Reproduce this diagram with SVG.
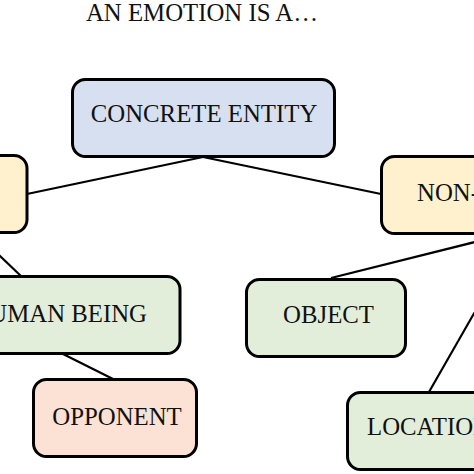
<svg xmlns="http://www.w3.org/2000/svg" width="474" height="474" viewBox="0 0 474 474">
<style>
.box{stroke:#000;stroke-width:3}
.t{font-family:"Liberation Serif","Times New Roman",serif;font-size:24.8px;fill:#111}
.blue{fill:#d7e0f1}
.yel{fill:#fff1cd}
.grn{fill:#e2eed9}
.pch{fill:#fbe2d4}
.c{stroke:#000;stroke-width:2.2;fill:none}
</style>
<rect width="474" height="474" fill="#fff"/>
<text class="t" x="202" y="21" text-anchor="middle">AN EMOTION IS A…</text>
<g id="connectors">
<line class="c" x1="203" y1="157" x2="27" y2="194"/>
<line class="c" x1="203" y1="157" x2="381" y2="194"/>
<line class="c" x1="-24" y1="233" x2="22" y2="277"/>
<line class="c" x1="63" y1="354" x2="113" y2="379"/>
<line class="c" x1="511" y1="233" x2="331" y2="278"/>
<line class="c" x1="500" y1="268" x2="429" y2="392"/>
</g>
<g id="concrete-entity">
<rect class="box blue" x="72.5" y="79.5" width="262" height="77" rx="13"/>
<text class="t" x="204" y="122" text-anchor="middle">CONCRETE ENTITY</text>
</g>
<g id="left-box">
<rect class="box yel" x="-120" y="155.5" width="147" height="77" rx="13"/>
</g>
<g id="non-box">
<rect class="box yel" x="381.5" y="156.5" width="260" height="77" rx="13"/>
<text class="t" x="417" y="201">NON-</text>
</g>
<g id="human-being">
<rect class="box grn" x="-100" y="276.5" width="280" height="77" rx="13"/>
<text class="t" x="147" y="322" text-anchor="end">HUMAN BEING</text>
</g>
<g id="opponent">
<rect class="box pch" x="33.5" y="379.5" width="163" height="77" rx="13"/>
<text class="t" x="117" y="425" text-anchor="middle">OPPONENT</text>
</g>
<g id="object">
<rect class="box grn" x="246.5" y="279.5" width="159" height="77" rx="13"/>
<text class="t" x="328.5" y="323" text-anchor="middle">OBJECT</text>
</g>
<g id="location">
<rect class="box grn" x="347.5" y="392.5" width="200" height="77" rx="13"/>
<text class="t" x="367" y="435">LOCATION</text>
</g>
</svg>
